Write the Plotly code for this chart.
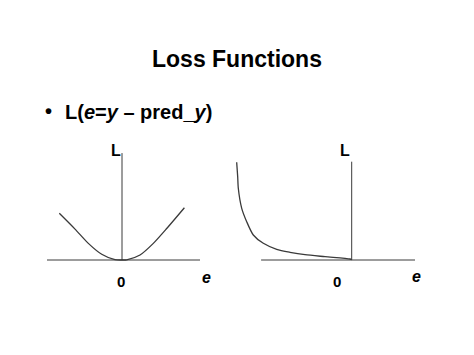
import plotly.graph_objects as go

W, H = 474, 355

# Left panel: loss vs error (roughly symmetric, smooth at 0)
left_e = [-1.045, -0.783, -0.561, -0.338, -0.117, 0.0, 0.078, 0.300, 0.522, 0.745, 1.040]
left_L = [0.786, 0.52, 0.28, 0.096, 0.005, 0.0, 0.003, 0.084, 0.28, 0.53, 0.88]

# Right panel: loss blowing up for negative errors
right_e = [-1.917, -1.90, -1.89, -1.833, -1.75, -1.64, -1.473, -1.25, -1.028, -0.778, -0.445, -0.028, 0.0]
right_L = [1.645, 1.40, 1.207, 0.870, 0.645, 0.421, 0.281, 0.180, 0.130, 0.089, 0.056, 0.017, 0.008]

# Axis lines of each panel
left_h_e, left_h_L = [-1.25, 1.30], [0, 0]
left_v_e, left_v_L = [0, 0], [0, 1.80]
right_h_e, right_h_L = [-1.51, 1.055], [0, 0]
right_v_e, right_v_L = [0, 0], [0, 1.655]

title_text = "<b>Loss Functions</b>"
bullet_text = "<b>L(<i>e</i>=<i>y</i> – pred_<i>y</i>)</b>"


def px(x):
    return x / W


def py(y):
    return 1 - y / H


fig = go.Figure()
axis_col = "#3a3a3a"
curve_col = "#3a3a3a"

for xa, ya, he, hl, ve, vl, ce, cl in [
    ("x", "y", left_h_e, left_h_L, left_v_e, left_v_L, left_e, left_L),
    ("x2", "y2", right_h_e, right_h_L, right_v_e, right_v_L, right_e, right_L),
]:
    fig.add_trace(go.Scatter(x=he, y=hl, mode="lines", xaxis=xa, yaxis=ya,
                             line=dict(color=axis_col, width=1), hoverinfo="skip"))
    fig.add_trace(go.Scatter(x=ve, y=vl, mode="lines", xaxis=xa, yaxis=ya,
                             line=dict(color=axis_col, width=1), hoverinfo="skip"))
    fig.add_trace(go.Scatter(x=ce, y=cl, mode="lines", xaxis=xa, yaxis=ya,
                             line=dict(color=curve_col, width=1.3, shape="spline", smoothing=0.7),
                             hoverinfo="skip"))

ydom = [py(265), py(150)]
yrng = [(260 - 265) / 59.4, (260 - 150) / 59.4]
hidden = dict(visible=False, fixedrange=True)

fig.update_layout(
    width=W, height=H,
    margin=dict(l=0, r=0, t=0, b=0),
    paper_bgcolor="white", plot_bgcolor="white",
    showlegend=False,
    font=dict(family="Liberation Sans, Arial, sans-serif", color="black"),
    xaxis=dict(domain=[px(40), px(210)], range=[(40 - 122) / 60, (210 - 122) / 60], **hidden),
    yaxis=dict(domain=ydom, range=yrng, **hidden),
    xaxis2=dict(domain=[px(228), px(422)], range=[(228 - 351.7) / 60, (422 - 351.7) / 60], **hidden),
    yaxis2=dict(domain=ydom, range=yrng, anchor="x2", **hidden),
)

ann = [
    dict(text=title_text, x=px(236.5), y=py(58.5), size=23, xanchor="center"),
    dict(text="<b>•</b>", x=px(48.5), y=py(111), size=20, xanchor="center"),
    dict(text=bullet_text, x=px(62.5), y=py(111.5), size=20, xanchor="left"),
    dict(text="<b>L</b>", x=px(116.3), y=py(150), size=16, xanchor="center"),
    dict(text="<b>L</b>", x=px(345.3), y=py(150), size=16, xanchor="center"),
    dict(text="<b>0</b>", x=px(121.5), y=py(281.5), size=15, xanchor="center"),
    dict(text="<b>0</b>", x=px(337), y=py(281.5), size=15, xanchor="center"),
    dict(text="<b><i>e</i></b>", x=px(206), y=py(277), size=16, xanchor="center"),
    dict(text="<b><i>e</i></b>", x=px(416), y=py(276.5), size=16, xanchor="center"),
]
for a in ann:
    fig.add_annotation(text=a["text"], x=a["x"], y=a["y"], xref="paper", yref="paper",
                       xanchor=a["xanchor"], yanchor="middle", showarrow=False,
                       font=dict(size=a["size"], color="black"))

fig.write_html("out.html", config={"displayModeBar": False})
